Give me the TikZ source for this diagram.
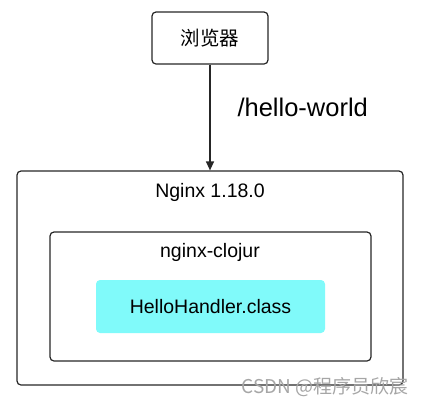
\documentclass[tikz,border=0pt]{standalone}
\usepackage{fontspec}
\setmainfont{Liberation Sans}
\newfontfamily\cjk{Noto Sans CJK SC}
\usetikzlibrary{arrows.meta}
\definecolor{handlercyan}{RGB}{128,250,250}

\begin{document}
\begin{tikzpicture}[x=1pt, y=-1pt,
    box/.style={draw=black!85, rounded corners=4pt, line width=1.2pt, inner sep=0pt},
    lbl/.style={font=\fontsize{19.5}{22}\selectfont}]
    \useasboundingbox (0,0) rectangle (424,405);

    \node[box, lbl, minimum width=116pt, minimum height=52pt] (browser) at (210,38) {\cjk 浏览器};
    \node[box, minimum width=386pt, minimum height=214pt] (nginx) at (210,278) {};
    \node[lbl] (nginxtitle) at (210,192) {Nginx 1.18.0};
    \node[box, minimum width=321pt, minimum height=129pt] (clojur) at (210.5,296.5) {};
    \node[lbl] (clojurtitle) at (210,252) {nginx-clojur};
    \node[fill=handlercyan, rounded corners=4pt, minimum width=229pt, minimum height=53pt, lbl] (handler) at (210.5,306.5) {HelloHandler.class};

    \draw[line width=1.2pt, draw=black!85, -{Triangle[length=9pt, width=8pt]}] (browser) -- (nginx);
    \node[font=\fontsize{25.5}{30}\selectfont, anchor=west] (path) at (234,107) {/hello-world};

    \node[text=black!35, font=\cjk\fontsize{19}{22}\selectfont] (mark) at (325,387) {CSDN @程序员欣宸};
\end{tikzpicture}
\end{document}
